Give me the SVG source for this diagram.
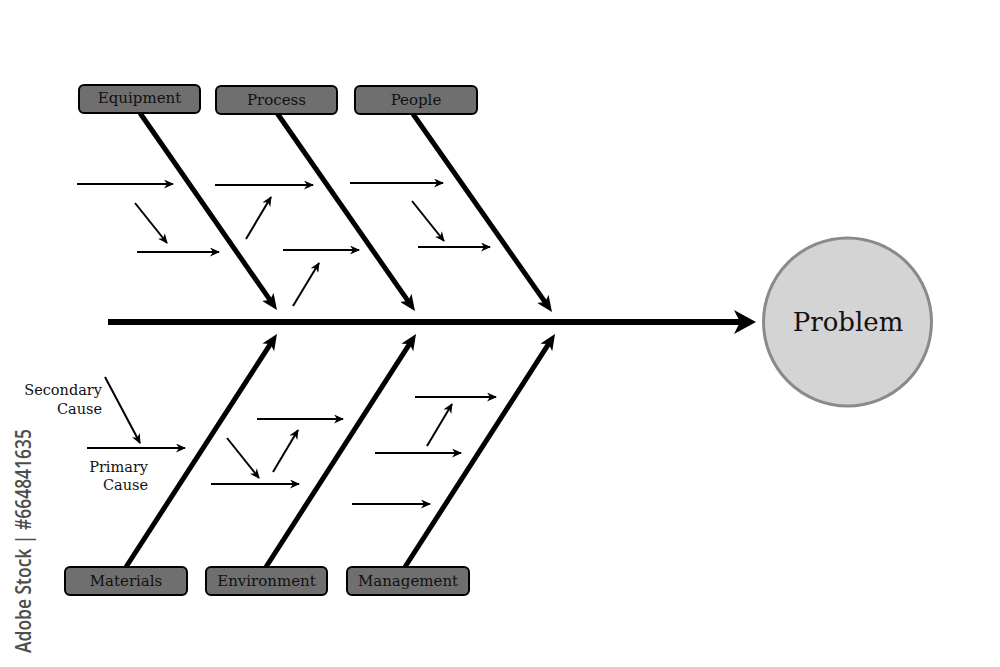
<svg xmlns="http://www.w3.org/2000/svg" width="1000" height="667" viewBox="0 0 1000 667">
  <style>
    .box { fill: #6f6f6f; stroke: #000; stroke-width: 2; }
    .lbl { font-family: "DejaVu Serif", "Liberation Serif", serif; font-size: 15px; fill: #111; text-anchor: middle; }
    .note { font-family: "DejaVu Serif", "Liberation Serif", serif; font-size: 14.5px; fill: #111; text-anchor: end; }
    .bone { stroke: #000; stroke-width: 5; fill: none; marker-end: url(#boneHead); }
    .spine { stroke: #000; stroke-width: 6; fill: none; marker-end: url(#spineHead); }
    .sub { stroke: #000; stroke-width: 2; fill: none; marker-end: url(#subHead); }
  </style>
  <defs>
    <marker id="spineHead" viewBox="0 0 22 24" refX="10" refY="12" markerWidth="22" markerHeight="24" markerUnits="userSpaceOnUse" orient="auto">
      <path d="M0,0 L22,12 L0,24 L6,12 z" fill="#000"/>
    </marker>
    <marker id="boneHead" viewBox="0 0 16 14" refX="8" refY="7" markerWidth="16" markerHeight="14" markerUnits="userSpaceOnUse" orient="auto">
      <path d="M0,0 L16,7 L0,14 L4,7 z" fill="#000"/>
    </marker>
    <marker id="subHead" viewBox="0 0 10 9" refX="9" refY="4.5" markerWidth="10" markerHeight="9" markerUnits="userSpaceOnUse" orient="auto">
      <path d="M0,0 L10,4.5 L0,9 L3,4.5 z" fill="#000"/>
    </marker>
  </defs>
  <rect width="1000" height="667" fill="#fff"/>

  <g id="connectors">
    <line class="spine" x1="108" y1="322" x2="744" y2="322"/>
    <line class="bone" x1="140" y1="113" x2="272.4" y2="303.4"/>
    <line class="bone" x1="277" y1="113" x2="410.4" y2="304.4"/>
    <line class="bone" x1="413" y1="114" x2="547.4" y2="305.4"/>
    <line class="bone" x1="126" y1="567" x2="272.6" y2="340.7"/>
    <line class="bone" x1="266" y1="567" x2="411.7" y2="340.7"/>
    <line class="bone" x1="405" y1="567" x2="550.7" y2="340.7"/>

    <line class="sub" x1="77" y1="184" x2="173" y2="184"/>
    <line class="sub" x1="135" y1="203" x2="167" y2="243"/>
    <line class="sub" x1="137" y1="252" x2="219" y2="252"/>
    <line class="sub" x1="246" y1="239" x2="271" y2="197"/>
    <line class="sub" x1="215" y1="185" x2="313" y2="185"/>
    <line class="sub" x1="283" y1="250" x2="359" y2="250"/>
    <line class="sub" x1="293" y1="306" x2="319" y2="263"/>
    <line class="sub" x1="350" y1="183" x2="443" y2="183"/>
    <line class="sub" x1="412" y1="201" x2="444" y2="241"/>
    <line class="sub" x1="418" y1="247" x2="490" y2="247"/>

    <line class="sub" x1="105" y1="377" x2="140" y2="443"/>
    <line class="sub" x1="87" y1="448" x2="185" y2="448"/>
    <line class="sub" x1="257" y1="419" x2="343" y2="419"/>
    <line class="sub" x1="227" y1="438" x2="259" y2="478"/>
    <line class="sub" x1="273" y1="472" x2="298" y2="430"/>
    <line class="sub" x1="211" y1="484" x2="299" y2="484"/>
    <line class="sub" x1="415" y1="397" x2="496" y2="397"/>
    <line class="sub" x1="427" y1="446" x2="452" y2="404"/>
    <line class="sub" x1="375" y1="453" x2="461" y2="453"/>
    <line class="sub" x1="352" y1="504" x2="430" y2="504"/>
  </g>

  <g id="equipment">
    <rect class="box" x="79" y="85" width="121" height="28" rx="5"/>
    <text class="lbl" x="139.5" y="103">Equipment</text>
  </g>
  <g id="process">
    <rect class="box" x="216" y="86" width="121" height="28" rx="5"/>
    <text class="lbl" x="276.5" y="105">Process</text>
  </g>
  <g id="people">
    <rect class="box" x="355" y="86" width="122" height="28" rx="5"/>
    <text class="lbl" x="416" y="105">People</text>
  </g>
  <g id="materials">
    <rect class="box" x="65" y="567" width="122" height="28" rx="5"/>
    <text class="lbl" x="126" y="586">Materials</text>
  </g>
  <g id="environment">
    <rect class="box" x="206" y="567" width="121" height="28" rx="5"/>
    <text class="lbl" x="266.5" y="586">Environment</text>
  </g>
  <g id="management">
    <rect class="box" x="347" y="567" width="122" height="28" rx="5"/>
    <text class="lbl" x="408" y="586">Management</text>
  </g>
  <g id="problem">
    <circle cx="847.5" cy="322" r="84" fill="#d4d4d4" stroke="#8a8a8a" stroke-width="3"/>
    <text x="848" y="331" font-family="DejaVu Serif, Liberation Serif, serif" font-size="26" text-anchor="middle" fill="#111">Problem</text>
  </g>
  <g id="legend">
    <text class="note" x="102" y="395">Secondary</text>
    <text class="note" x="102" y="414">Cause</text>
    <text class="note" x="148" y="472">Primary</text>
    <text class="note" x="148" y="490">Cause</text>
  </g>
  <text transform="translate(31,653) rotate(-90)" font-family="Open Sans, DejaVu Sans, sans-serif" font-weight="600" font-size="21" fill="#4d4d4d" textLength="224" lengthAdjust="spacingAndGlyphs">Adobe Stock | #664841635</text>
</svg>
